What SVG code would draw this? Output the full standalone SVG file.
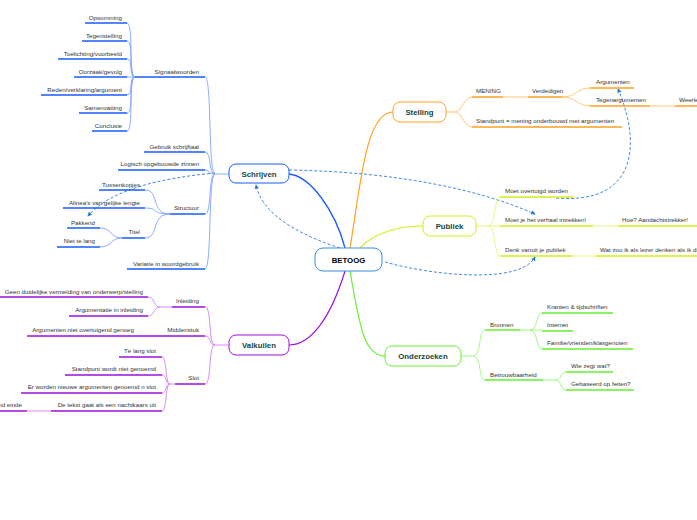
<svg xmlns="http://www.w3.org/2000/svg" width="697" height="520" viewBox="0 0 697 520">
<style>
text{font-family:"Liberation Sans",Arial,sans-serif;font-size:6.2px;fill:#333}
.r{text-anchor:end}
.n{font-size:7.8px;font-weight:bold;fill:#16453a;text-anchor:middle}
.c{fill:none;stroke-width:0.9}
.u{stroke-width:1.6}
.b .c{stroke:#7fa3ff}.b .u{stroke:#1a5cff}
.o .c{stroke:#ffc266}.o .u{stroke:#ffa020}
.y .c{stroke:#e4f57a}.y .u{stroke:#d2ee1a}
.g .c{stroke:#9af57a}.g .u{stroke:#66ee33}
.p .c{stroke:#cf80f5}.p .u{stroke:#9c10e0}
.d{fill:none;stroke:#2a7ad8;stroke-width:0.9;stroke-dasharray:3,2}
</style>
<defs><marker id="a" viewBox="0 0 6 6" refX="5" refY="3" markerWidth="5" markerHeight="5" orient="auto"><path d="M0,0L6,3L0,6z" fill="#2a7ad8"/></marker></defs>
<g id="connectors">
<path d="M345,248C335,210 310,176 289,174" stroke="#1a5cff" stroke-width="1.3" fill="none"/>
<path d="M350,248C360,190 365,112 393,112" stroke="#ffa020" stroke-width="1.2" fill="none"/>
<path d="M360,248C375,232 400,226 423,226" stroke="#d2ee1a" stroke-width="1.2" fill="none"/>
<path d="M350,271C360,330 365,356 385,356" stroke="#66ee33" stroke-width="1.2" fill="none"/>
<path d="M345,271C330,320 310,345 289,345" stroke="#9c10e0" stroke-width="1.2" fill="none"/>
<path class="d" d="M289,170C400,172 480,190 535,214" marker-end="url(#a)"/>
<path class="d" d="M215,173C160,178 110,190 88,216" marker-end="url(#a)"/>
<path class="d" d="M340,248C300,235 262,215 256,185" marker-end="url(#a)"/>
<path class="d" d="M385,262C430,275 520,285 535,257" marker-end="url(#a)"/>
<path class="d" d="M556,198C640,205 640,140 618,89" marker-end="url(#a)"/>
</g>
<g id="center"><rect x="315" y="248" width="67" height="23" rx="8" fill="#fff" stroke="#3a8ee0" stroke-width="1"/><text class="n" x="348.5" y="262.5" style="fill:#000">BETOOG</text></g>
<g id="schrijven" class="b">
<path class="c" d="M229,174H215M215,174C208,174 212,77 205,77M215,174C208,174 212,152 205,152M215,174C208,174 210,170 205,170M215,174C208,174 212,214 205,214M215,174C208,174 212,269 205,269"/>
<path class="c" d="M135,77C128,77 134,23 127,23M135,77C128,77 134,41 127,41M135,77C128,77 134,59 127,59M135,77H127M135,77C128,77 134,95 127,95M135,77C128,77 134,113 127,113M135,77C128,77 134,131 127,131"/>
<path class="c" d="M170,214C150,214 160,190 145,190M170,214C150,214 160,208 145,208M170,214C150,214 160,238 145,238M122,238C110,238 112,228 100,228M122,238C110,238 112,247 100,247"/>
<path class="u" d="M135,77H205M144,152H205M118,170H205M170,214H205M127,269H205M85,23H127M82,41H127M58,59H127M74,77H127M41,95H127M79,113H127M92,131H127M99,190H145M63,208H145M122,238H145M67,228H100M57,247H100"/>
<rect x="229" y="164" width="60" height="19" rx="7" fill="#fff" stroke="#1a5cff" stroke-width="1"/><text class="n" x="259" y="177">Schrijven</text>
<text class="r" x="199" y="74">Signaalwoorden</text><text class="r" x="199" y="149">Gebruik schrijftaal</text><text class="r" x="199" y="166">Logisch opgebouwde zinnen</text><text class="r" x="199" y="210">Structuur</text><text class="r" x="199" y="266">Variatie in woordgebruik</text>
<text class="r" x="122" y="20">Opsomming</text><text class="r" x="122" y="38">Tegenstelling</text><text class="r" x="122" y="56">Toelichting/voorbeeld</text><text class="r" x="122" y="74">Oorzaak/gevolg</text><text class="r" x="122" y="92">Reden/verklaring/argument</text><text class="r" x="122" y="110">Samenvatting</text><text class="r" x="122" y="128">Conclusie</text>
<text class="r" x="140" y="187">Tussenkopjes</text><text class="r" x="140" y="205">Alinea's van gelijke lengte</text><text class="r" x="140" y="234">Titel</text><text class="r" x="95" y="225">Pakkend</text><text class="r" x="95" y="243">Niet te lang</text>
</g>
<g id="stelling" class="o">
<path class="c" d="M446,112H455C462,112 464,97 472,97M455,112C462,112 464,127 472,127M503,97H528M563,97C575,97 578,88 590,88M563,97C575,97 578,106 590,106M650,106H675"/>
<path class="u" d="M472,97H503M528,97H563M590,88H634M590,106H650M675,106H697M472,127H622"/>
<rect x="393" y="102" width="53" height="20" rx="7" fill="#fff" stroke="#ffa020" stroke-width="1"/><text class="n" x="419.5" y="115">Stelling</text>
<text x="476" y="93">MENING</text><text x="532" y="93">Verdedigen</text><text x="596" y="84">Argumenten</text><text x="596" y="102">Tegenargumenten</text><text x="679" y="102">Weerleggen</text><text x="476" y="123">Standpunt = mening onderbouwd met argumenten</text>
</g>
<g id="publiek" class="y">
<path class="c" d="M476,226H488C496,226 494,197 500,197M488,226H500M488,226C496,226 494,256 500,256M593,226H618M572,256H596"/>
<path class="u" d="M500,197H573M500,226H593M618,226H697M500,256H572M596,256H697"/>
<rect x="423" y="216" width="53" height="20" rx="7" fill="#fff" stroke="#d2ee1a" stroke-width="1"/><text class="n" x="449.5" y="229">Publiek</text>
<text x="505" y="193">Moet overtuigd worden</text><text x="505" y="222">Moet je het verhaal intrekken!</text><text x="622" y="222">Hoe? Aandachtstrekker!</text><text x="505" y="252">Denk vanuit je publiek</text><text x="600" y="252">Wat zou ik als lezer denken als ik dit lees?</text>
</g>
<g id="onderzoeken" class="g">
<path class="c" d="M461,356H473C482,356 478,330 485,330M473,356C482,356 478,380 485,380M520,330H530C538,330 536,313 542,313M530,330H542M530,330C538,330 536,349 542,349M543,380H555C562,380 560,372 566,372M555,380C562,380 560,390 566,390"/>
<path class="u" d="M485,330H520M485,380H543M542,313H613M542,331H573M542,349H633M566,372H613M566,390H634"/>
<rect x="385" y="346" width="76" height="20" rx="7" fill="#fff" stroke="#66ee33" stroke-width="1"/><text class="n" x="423" y="359">Onderzoeken</text>
<text x="490" y="327">Bronnen</text><text x="490" y="377">Betrouwbaarheid</text><text x="547" y="309">Kranten &amp; tijdschriften</text><text x="547" y="327">Internet</text><text x="547" y="345">Familie/vrienden/klasgenoten</text><text x="571" y="368">Wie zegt wat?</text><text x="571" y="386">Gebaseerd op feiten?</text>
</g>
<g id="valkuilen" class="p">
<path class="c" d="M229,345H215C208,345 212,307 205,307M215,345C208,345 212,336 205,336M215,345C208,345 212,384 205,384M172,307H160C153,307 155,297 148,297M160,307C153,307 155,316 148,316M175,384H170C165,384 167,357 162,357M170,384C165,384 167,375 162,375M170,384C165,384 167,393 162,393M170,384C165,384 167,411 162,411M51,411H27"/>
<path class="u" d="M172,307H205M163,336H205M175,384H205M0,297H148M69,316H148M27,336H163M119,357H162M65,375H162M21,393H162M51,411H162M0,411H27"/>
<rect x="229" y="335" width="60" height="20" rx="7" fill="#fff" stroke="#9c10e0" stroke-width="1"/><text class="n" x="259" y="348">Valkuilen</text>
<text class="r" x="199" y="303">Inleiding</text><text class="r" x="199" y="332">Middenstuk</text><text class="r" x="199" y="380">Slot</text>
<text class="r" x="143" y="294">Geen duidelijke vermelding van onderwerp/stelling</text><text class="r" x="143" y="312">Argumentatie in inleiding</text><text class="r" x="134" y="332">Argumenten niet overtuigend genoeg</text><text class="r" x="156" y="353">Té lang slot</text><text class="r" x="156" y="371">Standpunt wordt niet genoemd</text><text class="r" x="156" y="389">Er worden nieuwe argumenten genoemd n slot</text><text class="r" x="156" y="407">De tekst gaat als een nachtkaars uit</text><text class="r" x="22" y="407">Geen duidelijk verband einde</text>
</g>
</svg>
